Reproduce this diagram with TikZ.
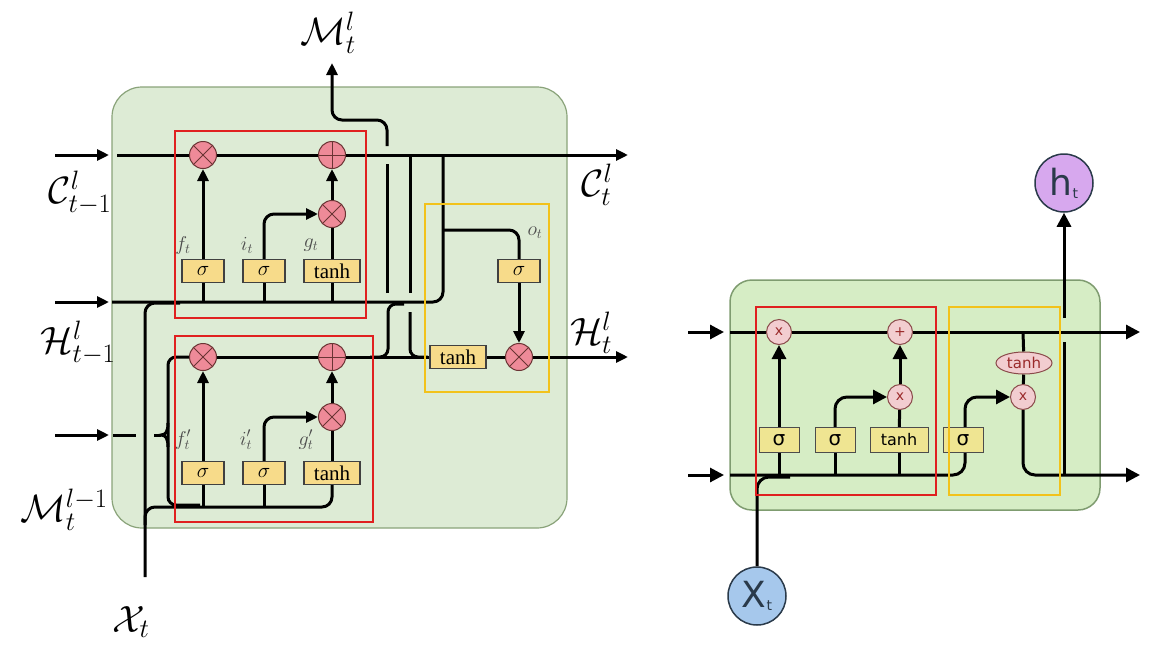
\RequirePackage{fix-cm}
\documentclass[tikz,border=0pt]{standalone}
\usepackage{fontspec}
\setmainfont{Liberation Serif}
\newfontfamily\rsans{DejaVu Sans}
\usetikzlibrary{arrows.meta}
\definecolor{lcellfill}{HTML}{DDEBD5}
\definecolor{lcellline}{HTML}{8AA37A}
\definecolor{rcellfill}{HTML}{D6EDC5}
\definecolor{rcellline}{HTML}{7F9C70}
\definecolor{gatey}{HTML}{F7DB8A}
\definecolor{rgatey}{HTML}{EFE592}
\definecolor{oppink}{HTML}{EE8A98}
\definecolor{opline}{HTML}{6A3434}
\definecolor{roppink}{HTML}{F2CDD0}
\definecolor{ropline}{HTML}{8A4A4A}
\definecolor{roptext}{HTML}{9A2A2A}
\definecolor{framered}{HTML}{E02020}
\definecolor{framegold}{HTML}{F2C21B}
\definecolor{hfill}{HTML}{D7A8EE}
\definecolor{xfill}{HTML}{A6C8EC}
\definecolor{circline}{HTML}{2A3A4A}
\pgfdeclarelayer{bg}
\pgfdeclarelayer{wires}
\pgfsetlayers{bg,wires,main}
\tikzset{
  wire/.style={line width=3pt},
  arr/.style={wire,-{Triangle[length=12pt,width=11pt]}},
  rwire/.style={line width=3pt},
  rarr/.style={rwire,-{Triangle[length=14pt,width=14pt]}},
  lcell/.style={fill=lcellfill, draw=lcellline, line width=1.2pt, rounded corners=30pt},
  rcell/.style={fill=rcellfill, draw=rcellline, line width=1.5pt, rounded corners=22pt},
  gate/.style={draw=black!75, fill=gatey, line width=1.2pt, minimum width=42pt,
    minimum height=23pt, inner sep=0pt, font=\fontsize{21}{21}\selectfont},
  wgate/.style={gate, minimum width=56pt},
  mul/.style={circle, draw=opline, fill=oppink, line width=1pt, minimum size=27pt, inner sep=0pt,
    path picture={\draw[opline, line width=1pt]
      (path picture bounding box.north west) -- (path picture bounding box.south east)
      (path picture bounding box.north east) -- (path picture bounding box.south west);}},
  add/.style={circle, draw=opline, fill=oppink, line width=1pt, minimum size=27pt, inner sep=0pt,
    path picture={\draw[opline, line width=1pt]
      (path picture bounding box.north) -- (path picture bounding box.south)
      (path picture bounding box.west) -- (path picture bounding box.east);}},
  rgate/.style={draw=black!70, fill=rgatey, line width=1pt, minimum width=40pt,
    minimum height=25pt, inner sep=0pt, font=\rsans\fontsize{20}{20}\selectfont},
  rop/.style={circle, draw=ropline, fill=roppink, line width=1pt, minimum size=25pt,
    inner sep=0pt, text=roptext, font=\rsans\fontsize{14}{14}\selectfont},
  rtanh/.style={ellipse, draw=ropline, fill=roppink, line width=1pt, minimum width=56pt,
    minimum height=22pt, inner sep=0pt, text=roptext, font=\rsans\fontsize{15}{15}\selectfont},
  bigcirc/.style={circle, draw=circline, line width=1.5pt, minimum size=58pt, inner sep=0pt,
    font=\rsans\fontsize{36}{36}\selectfont, text=circline},
  lbl/.style={font=\fontsize{38}{38}\selectfont},
  glbl/.style={font=\fontsize{20}{20}\selectfont, text=black!70},
  redframe/.style={draw=framered, line width=2pt},
  goldframe/.style={draw=framegold, line width=2pt}
}
\usetikzlibrary{shapes.geometric}
\begin{document}
\begin{tikzpicture}[x=1pt,y=-1pt]
\useasboundingbox (0,0) rectangle (1152,657);
\begin{pgfonlayer}{bg}
\draw[lcell] (112,87) rectangle (567,528);
\draw[rcell] (730,280) rectangle (1100,510);
\end{pgfonlayer}

\node[mul] (mf) at (203,155) {};
\node[add] (ac) at (332,155) {};
\node[mul] (mi) at (332,214) {};
\node[gate] (sf) at (203,271) {$\sigma$};
\node[gate] (si) at (264,271) {$\sigma$};
\node[wgate] (tg) at (332,271) {tanh};
\node[gate] (so) at (519,271) {$\sigma$};
\node[wgate] (th) at (458,357) {tanh};
\node[mul] (mo) at (519,357) {};
\node[mul] (mf2) at (203,357) {};
\node[add] (am) at (332,357) {};
\node[mul] (mi2) at (332,417) {};
\node[gate] (sf2) at (203,473) {$\sigma$};
\node[gate] (si2) at (264,473) {$\sigma$};
\node[wgate] (tg2) at (332,473) {tanh};

\node[lbl] (lc0) at (80,193) {$\mathcal{C}^{l}_{t-1}$};
\node[lbl] (lc1) at (597,185) {$\mathcal{C}^{l}_{t}$};
\node[lbl] (lh0) at (78,343) {$\mathcal{H}^{l}_{t-1}$};
\node[lbl] (lh1) at (591,333) {$\mathcal{H}^{l}_{t}$};
\node[lbl] (lm0) at (64,510) {$\mathcal{M}^{l-1}_{t}$};
\node[lbl] (lm1) at (328,33) {$\mathcal{M}^{l}_{t}$};
\node[lbl] (lx) at (131,622) {$\mathcal{X}_{t}$};
\node[glbl] (lf) at (183,245) {$f_t$};
\node[glbl] (li) at (247,245) {$i_t$};
\node[glbl] (lg) at (311,245) {$g_t$};
\node[glbl] (lo) at (535,233) {$o_t$};
\node[glbl] (lf2) at (183,440) {$f^{\prime}_t$};
\node[glbl] (li2) at (246,440) {$i^{\prime}_t$};
\node[glbl] (lg2) at (306,440) {$g^{\prime}_t$};

\coordinate (cin) at (55,155);
\coordinate (cs) at (117,155);
\coordinate (cout) at (628,155);
\coordinate (hin) at (55,302);
\coordinate (hs) at (112,302);
\coordinate (hup) at (443,302);
\coordinate (min) at (55,435);
\coordinate (brc) at (161,435);
\coordinate (xs) at (145,577);
\coordinate (lowin) at (145,507);
\coordinate (hout) at (628,357);
\coordinate (mout) at (332,63);

\begin{pgfonlayer}{wires}
\draw[arr] (cin) -- ++(54,0);
\draw[wire] (cs) -- (mf);
\draw[wire] (mf) -- (ac);
\draw[arr] (ac) -- (cout);
\draw[arr] (hin) -- ++(54,0);
\draw[wire, rounded corners=10pt] (hs) -- (hup) -- (443,155);
\draw[wire, rounded corners=10pt] (443,230) -| (so.north);
\draw[wire] (sf.south) -- (sf.south |- hs);
\draw[wire] (si.south) -- (si.south |- hs);
\draw[wire] (tg.south) -- (tg.south |- hs);
\draw[arr] (sf) -- (mf);
\draw[arr, rounded corners=10pt] (si.north) |- (mi.west);
\draw[wire] (tg) -- (mi);
\draw[arr] (mi) -- (ac);
\draw[arr] (so) -- (mo);
\draw[wire] (387,293) -- (387,164);
\draw[arr, rounded corners=10pt] (387,146) -- (387,120) -- (332,120) -- (mout);
\draw[wire, rounded corners=8pt] (370,357) -- (388,357) -- (388,304) -- (404,304);
\draw[wire] (410,155) -- (410,293);
\draw[wire, rounded corners=8pt] (410,312) -- (410,357) -- (428,357);
\draw[wire, rounded corners=8pt] (mf2.west) -| (168,505) -- (200,505);
\draw[wire] (mf2) -- (am);
\draw[wire] (am) -- (th);
\draw[wire] (th) -- (mo);
\draw[arr] (mo) -- (hout);
\draw[arr] (min) -- ++(54,0);
\draw[wire, dash pattern=on 23pt off 18pt] (113,435) -- (brc);
\draw[wire] (168,423) .. controls (168,431) and (166,435) .. (brc)
  .. controls (166,435) and (168,439) .. (168,447);
\draw[wire, rounded corners=10pt] (xs) |- (180,303);
\draw[wire, rounded corners=10pt] (145,525) -- (lowin) -- (332,507) -- (tg2.south);
\draw[wire] (sf2.south) -- (sf2.south |- lowin);
\draw[wire] (si2.south) -- (si2.south |- lowin);
\draw[arr] (sf2) -- (mf2);
\draw[arr, rounded corners=10pt] (si2.north) |- (mi2.west);
\draw[wire] (tg2) -- (mi2);
\draw[arr] (mi2) -- (am);
\end{pgfonlayer}

\draw[redframe] (175,131) rectangle (366,318);
\draw[redframe] (175,336) rectangle (373,522);
\draw[goldframe] (425,204) rectangle (549,392);

\node[rop] (rf) at (779,332) {x};
\node[rop] (ra) at (900,332) {+};
\node[rop] (ri) at (900,397) {x};
\node[rop] (ro) at (1023,397) {x};
\node[rgate] (rsf) at (779,440) {σ};
\node[rgate] (rsi) at (835,440) {σ};
\node[rgate, minimum width=58pt, font=\rsans\fontsize{16}{16}\selectfont] (rtg) at (899,440) {tanh};
\node[rgate] (rso) at (963,440) {σ};
\node[rtanh] (rtc) at (1024,363) {tanh};
\node[bigcirc, fill=hfill] (rh) at (1064,183) {h\raisebox{-3pt}{\fontsize{14}{14}\selectfont t}};
\node[bigcirc, fill=xfill] (rx) at (757,596) {X\raisebox{-3pt}{\fontsize{14}{14}\selectfont t}};

\coordinate (rtin) at (688,332);
\coordinate (rts) at (730,332);
\coordinate (rtout) at (1140,332);
\coordinate (rbin) at (688,475);
\coordinate (rbs) at (730,475);
\coordinate (rbout) at (1140,475);

\begin{pgfonlayer}{wires}
\draw[rarr] (rtin) -- ++(36,0);
\draw[rwire] (rts) -- (rf);
\draw[rwire] (rf) -- (ra);
\draw[rarr] (ra) -- (rtout);
\draw[rarr] (rbin) -- ++(36,0);
\draw[rarr, rounded corners=12pt] (rbs) -- (965,475) -- (965,397) -- (ro);
\draw[rwire] (rsf.south) -- (rsf.south |- rbs);
\draw[rwire] (rsi.south) -- (rsi.south |- rbs);
\draw[rwire] (rtg.south) -- (rtg.south |- rbs);
\draw[rarr] (rsf) -- (rf);
\draw[rarr, rounded corners=12pt] (rsi.north) |- (ri.west);
\draw[rwire] (rtg) -- (ri);
\draw[rarr] (ri) -- (ra);
\draw[rwire] (1023,332) -- (rtc);
\draw[rwire] (rtc) -- (ro);
\draw[rarr, rounded corners=12pt] (ro.south) |- (rbout);
\draw[rwire] (1064,475) -- (1064,342);
\draw[rarr] (1064,318) -- (rh);
\draw[rwire, rounded corners=12pt] (rx) |- (790,477);
\end{pgfonlayer}

\draw[redframe] (756,307) rectangle (936,495);
\draw[goldframe] (949,307) rectangle (1060,495);
\end{tikzpicture}
\end{document}
